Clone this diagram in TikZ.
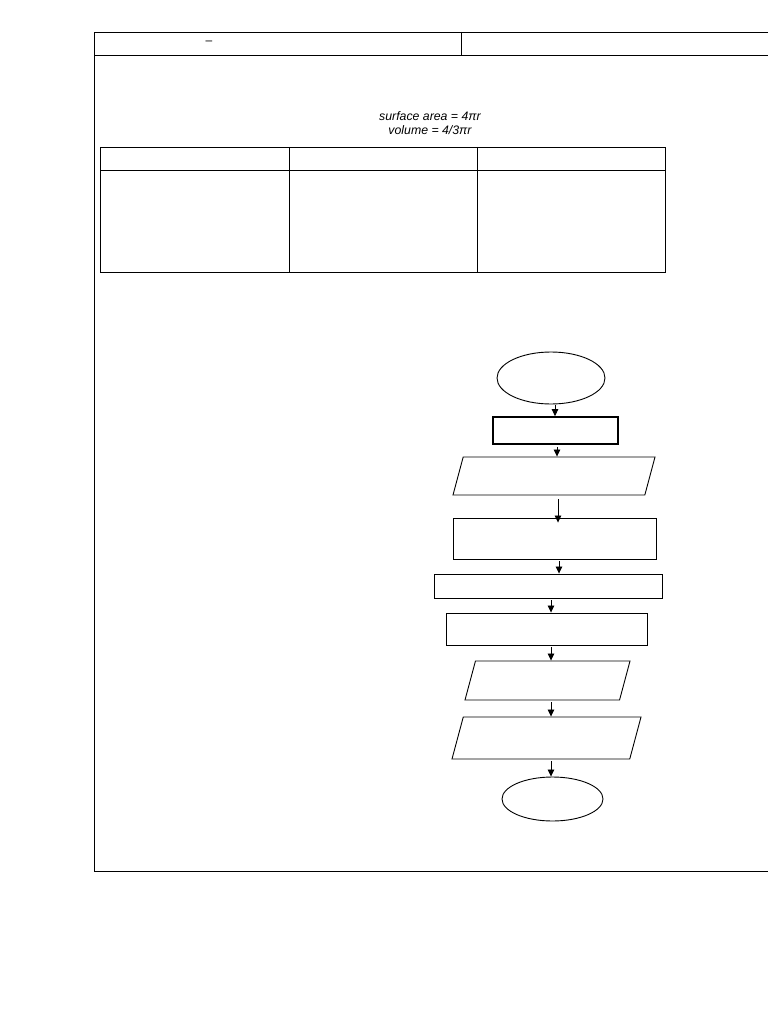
\documentclass[tikz,border=0pt]{standalone}
\usepackage{fontspec}
\setmainfont{Liberation Sans}
\usetikzlibrary{arrows.meta,shapes.geometric}

\tikzset{
  frame/.style={line width=0.9pt},
  box/.style={draw, rectangle, line width=0.9pt, inner sep=0pt},
  para/.style={draw, trapezium, trapezium left angle=75, trapezium right angle=105,
    trapezium stretches body=true, line width=0.9pt, inner xsep=0pt, inner ysep=#1},
  term/.style={draw, ellipse, line width=0.9pt, inner sep=0pt},
  arr/.style={-{Triangle[length=7pt,width=6.5pt]}, line width=0.8pt},
  formula/.style={font=\fontsize{12.3}{14}\selectfont\itshape, inner sep=0pt}
}

\begin{document}
\begin{tikzpicture}[x=1pt, y=-1pt]
  \useasboundingbox (0,0) rectangle (768,1024);

  % page frame and header
  \draw[frame] (768,32) -| (94,871) -- (768,871);
  \draw[frame] (94,55) -- (768,55);
  \draw[frame] (461,32) -- (461,55);
  \node[inner sep=0pt, font=\fontsize{12}{14}\selectfont] (dash) at (209,43) {–};

  % formulas
  \node[formula] (area) at (430,116.5) {surface area = 4πr};
  \node[formula] (vol) at (430,130.5) {volume = 4/3πr};

  % table
  \draw[frame] (100,147) rectangle (665,272);
  \draw[frame] (100,170) -- (665,170);
  \draw[frame] (289,147) -- (289,272);
  \draw[frame] (477,147) -- (477,272);

  % flowchart
  \node[term, minimum width=108, minimum height=52] (start) at (551,378) {};
  \node[box, line width=1.7pt, minimum width=125, minimum height=27] (init) at (555.5,430.5) {};
  \node[para=19pt, minimum width=202] (input) at (554,476) {};
  \node[box, minimum width=203, minimum height=41] (area calc) at (554.5,538.5) {};
  \node[box, minimum width=228, minimum height=24] (vol calc) at (548,586) {};
  \node[box, minimum width=201, minimum height=32] (round) at (546.5,629) {};
  \node[para=19.5pt, minimum width=165] (out area) at (547.5,680.5) {};
  \node[para=21pt, minimum width=189] (out vol) at (546.5,738) {};
  \node[term, minimum width=101, minimum height=44] (stop) at (552.5,799) {};

  \draw[arr] (start.south -| 555,0) ++(0,1) -- (init.north -| 555,0);
  \draw[arr] (init.south -| 557,0) ++(0,2) -- (input.north -| 557,0);
  \draw[arr] (input.south -| 558,0) ++(0,4) -- ([yshift=-5pt]area calc.north -| 558,0);
  \draw[arr] (area calc.south -| 559,0) ++(0,2) -- (vol calc.north -| 559,0);
  \draw[arr] (vol calc.south -| 551,0) ++(0,2) -- (round.north -| 551,0);
  \draw[arr] (round.south -| 551,0) ++(0,2) -- (out area.north -| 551,0);
  \draw[arr] (out area.south -| 551,0) ++(0,2) -- (out vol.north -| 551,0);
  \draw[arr] (out vol.south -| 551,0) ++(0,2) -- (stop.north -| 551,0);
\end{tikzpicture}
\end{document}
